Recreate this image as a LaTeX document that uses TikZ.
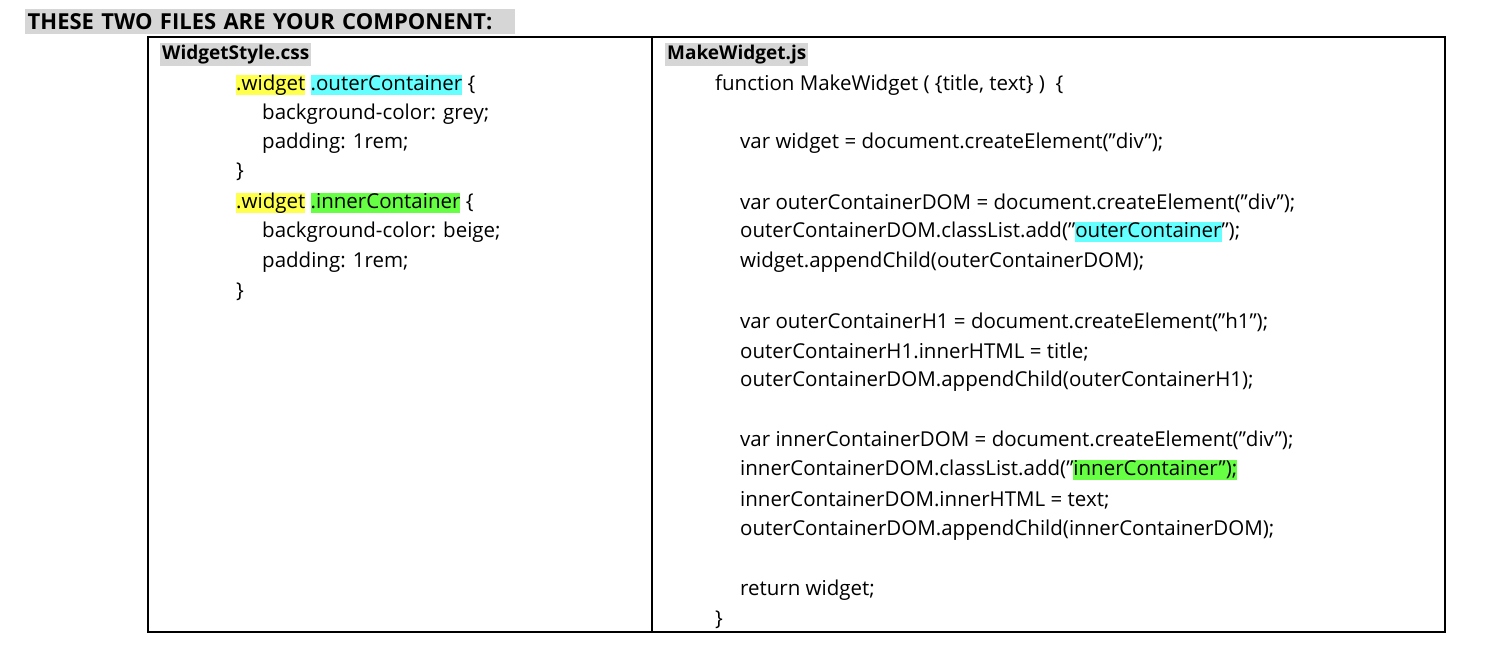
\documentclass[tikz,border=0pt]{standalone}
\usepackage{fontspec}
\defaultfontfeatures{}
\setmainfont{Open Sans}[Ligatures=Common]
\definecolor{hy}{HTML}{FFFF4D}
\definecolor{hc}{HTML}{66FFFF}
\definecolor{hg}{HTML}{66FF44}
\definecolor{hgray}{HTML}{D6D6D6}
\newcommand{\hlt}[2]{{\setlength\fboxsep{0pt}\colorbox{#1}{\vphantom{Ag}#2}}}
\newcommand{\q}{"}
\begin{document}
\begin{tikzpicture}[x=1pt,y=-1pt,
  code/.style={anchor=west,inner sep=0pt,font=\fontsize{20.5}{22}\selectfont},
  head/.style={anchor=west,inner sep=2pt,fill=hgray,font=\fontsize{19}{22}\selectfont\bfseries},
  panel/.style={draw,line width=1.2pt}]
\useasboundingbox (0,0) rectangle (1508,660);
\node[head,minimum height=25pt,minimum width=490pt,text width=485pt,font=\fontsize{22}{24}\selectfont\bfseries] (title) at (25,22) {THESE TWO FILES ARE YOUR COMPONENT:};
\draw[panel] (148,37) rectangle (652,632);
\draw[panel] (652,37) rectangle (1445,632);
\node[head] (cssname) at (160,55) {WidgetStyle.css};
\node[head] (jsname) at (665,55) {MakeWidget.js};
% CSS
\node[code] (c1) at (236,85) {\hlt{hy}{.widget} \hlt{hc}{.outerContainer} \{};
\node[code] (c2) at (262,114) {background-color: grey;};
\node[code] (c3) at (262,143) {padding: 1rem;};
\node[code] (c4) at (236,172) {\}};
\node[code] (c5) at (236,203) {\hlt{hy}{.widget} \hlt{hg}{.innerContainer} \{};
\node[code] (c6) at (262,232) {background-color: beige;};
\node[code] (c7) at (262,262) {padding: 1rem;};
\node[code] (c8) at (236,292) {\}};
% JS
\node[code] (j1) at (715,85) {function MakeWidget ( \{title, text\} )\ \ \{};
\node[code] (j2) at (740,143) {var widget = document.createElement(\q div\q);};
\node[code] (j3) at (740,203) {var outerContainerDOM = document.createElement(\q div\q);};
\node[code] (j4) at (740,232) {outerContainerDOM.classList.add(\q\hlt{hc}{outerContainer}\q);};
\node[code] (j5) at (740,262) {widget.appendChild(outerContainerDOM);};
\node[code] (j6) at (740,322) {var outerContainerH1 = document.createElement(\q h1\q);};
\node[code] (j7) at (740,352) {outerContainerH1.innerHTML = title;};
\node[code] (j8) at (740,381) {outerContainerDOM.appendChild(outerContainerH1);};
\node[code] (j9) at (740,440) {var innerContainerDOM = document.createElement(\q div\q);};
\node[code] (j10) at (740,470) {innerContainerDOM.classList.add(\q\hlt{hg}{innerContainer\q);}};
\node[code] (j11) at (740,500) {innerContainerDOM.innerHTML = text;};
\node[code] (j12) at (740,530) {outerContainerDOM.appendChild(innerContainerDOM);};
\node[code] (j13) at (740,590) {return widget;};
\node[code] (j14) at (715,620) {\}};
\end{tikzpicture}
\end{document}
